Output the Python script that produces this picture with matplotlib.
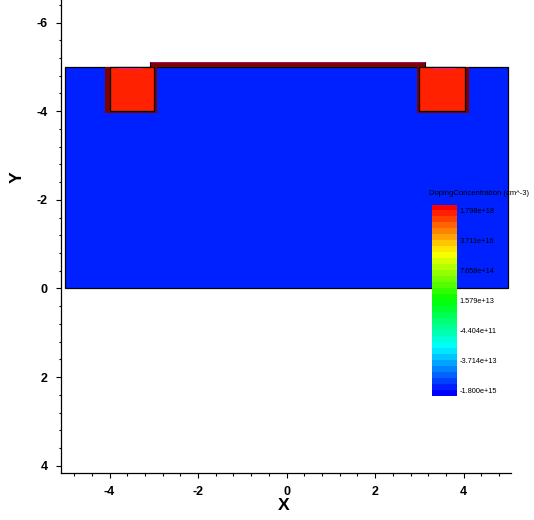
import numpy as np
import matplotlib
matplotlib.use('Agg')
import matplotlib.pyplot as plt
from matplotlib.colors import hsv_to_rgb, ListedColormap
from matplotlib.patches import Rectangle

plt.rcParams['font.family'] = ['Liberation Sans', 'DejaVu Sans']
plt.rcParams['axes.unicode_minus'] = False

# legend labels, top to bottom
legend_labels = ['1.798e+18', '3.711e+16', '7.658e+14', '1.579e+13',
                 '-4.404e+11', '-3.714e+13', '-1.800e+15']
legend_title = 'DopingConcentration (cm^-3)'
n_bands = 32

# regions: x0, x1, y0, y1 in device coordinates
silicon = (-5.0, 5.0, -5.0, 0.0)
implants = [(-4.0, -3.0, -5.0, -4.0), (3.0, 4.03, -5.0, -4.0)]
spacers = [(-4.1, -2.92, -5.0, -3.95), (2.95, 4.12, -5.0, -3.95)]
gate = (-3.09, 3.12, -5.12, -5.0)
contacts = [(-3.8, -3.3), (3.3, 3.8)]
silicon_band = 1
implant_band = 30

hues = np.linspace(240, 0, n_bands) / 360
band_colors = hsv_to_rgb(np.column_stack([hues, np.ones(n_bands), np.ones(n_bands)]))
cmap = ListedColormap(band_colors)
oxide_color = '#800000'

fig = plt.figure(figsize=(5.34, 5.20), dpi=100)
ax = fig.add_axes([61 / 534, 47 / 520, 450 / 534, 473 / 520])


def box(r, color, edge=None, lw=0.0, z=2):
    ax.add_patch(Rectangle((r[0], r[2]), r[1] - r[0], r[3] - r[2], facecolor=color,
                           edgecolor=edge if edge else color, linewidth=lw, zorder=z))


box(silicon, cmap(silicon_band), 'black', 0.9, 2)
for s in spacers:
    box(s, oxide_color, None, 0, 3)
for r in implants:
    box(r, cmap(implant_band), 'black', 0.9, 4)
box(gate, oxide_color, None, 0, 4)
for x in gate[:2]:
    ax.plot([x, x], gate[2:], color='black', lw=0.8, zorder=5)
ax.plot(gate[:2], [gate[2], gate[2]], color='#d020b0', lw=0.4, zorder=6)
for c in contacts:
    ax.plot(c, [-4.98, -4.98], color='#e020c0', lw=0.6, zorder=5)

ax.set_xlim(-5.096, 5.07)
ax.set_ylim(4.165, -6.51)
ax.spines['top'].set_visible(False)
ax.spines['right'].set_visible(False)
for side in ['left', 'bottom']:
    ax.spines[side].set_linewidth(0.9)
ax.set_xticks([-4, -2, 0, 2, 4])
ax.set_yticks([-6, -4, -2, 0, 2, 4])
ax.set_xticks(np.arange(-4.8, 5.0, 0.4), minor=True)
ax.set_yticks(np.arange(-6.4, 4.1, 0.4), minor=True)
ax.tick_params(which='major', length=3.4, width=0.8, labelsize=9, pad=6)
ax.tick_params(which='minor', length=1.8, width=0.8)
for t in ax.get_xticklabels() + ax.get_yticklabels():
    t.set_fontweight('bold')
ax.set_xlabel('X', fontsize=12.6, fontweight='bold', va='center')
ax.set_ylabel('Y', fontsize=12.6, fontweight='bold', va='center')
ax.xaxis.set_label_coords(284 / 534, 1 - 506 / 520, transform=fig.transFigure)
ax.yaxis.set_label_coords(17 / 534, 1 - 177.5 / 520, transform=fig.transFigure)

# colour legend sits on top of the plot
cax = fig.add_axes([432 / 534, 124 / 520, 25 / 534, 191 / 520])
cax.imshow(np.arange(n_bands)[:, None], cmap=cmap, aspect='auto', origin='lower',
           extent=[0, 1, 0, 1], interpolation='nearest')
cax.set_xticks([])
cax.yaxis.tick_right()
cax.set_yticks(np.linspace(1 / n_bands, 1 - 1 / n_bands, 7))
cax.set_yticklabels(legend_labels[::-1], fontsize=5.3)
cax.tick_params(axis='y', length=0, pad=2)
for s in cax.spines.values():
    s.set_visible(False)
fig.text(479 / 534, 1 - 193.5 / 520, legend_title, fontsize=5.5, ha='center', va='center')

fig.savefig('out.png', dpi=100)
